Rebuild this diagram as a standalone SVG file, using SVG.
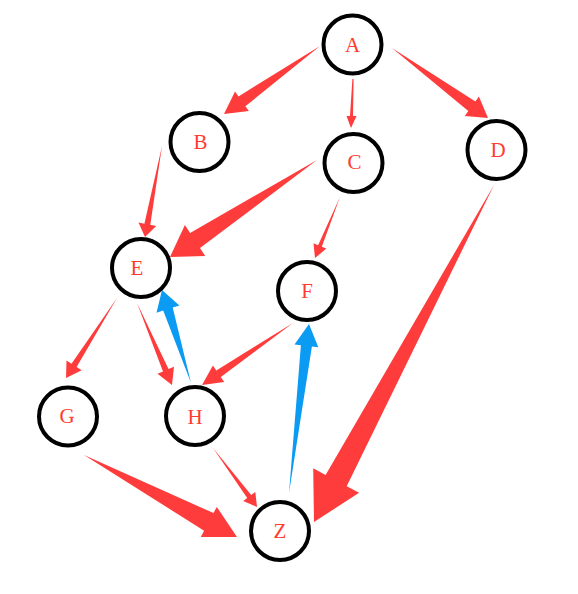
<svg xmlns="http://www.w3.org/2000/svg" width="578" height="594" viewBox="0 0 578 594">
<style>
.red{fill:#ff3c3c}
.blue{fill:#0c9bf2}
.node circle{fill:#ffffff;stroke:#000000;stroke-width:4}
.node text{font-family:"Liberation Serif","Times New Roman",serif;font-size:21px;fill:#ff3b30;text-anchor:middle;dominant-baseline:central}
</style>
<rect width="578" height="594" fill="#ffffff"/>
<g id="connectors">
<polygon class="red" points="320,46 238.5,96.4 235,91.5 224,114 248.9,111.1 245.4,106.2"/>
<polygon class="red" points="352.4,79 353.6,79 353,116 356.5,116 351,128 346.5,116 350,116"/>
<polygon class="red" points="392,48 475.4,101.4 478.9,96.5 488,118 464.8,115.9 468.3,111.1"/>
<polygon class="red" points="162,146 150.3,224.8 156.2,225.9 145,237 138.5,222.6 144.4,223.7"/>
<polygon class="red" points="317,160 200,248 205.2,255.9 170,257 184.9,225 190.1,233"/>
<polygon class="red" points="340,197 321.8,246.7 326.4,248.6 315,258 313.5,243.3 318.1,245.2"/>
<polygon class="red" points="494,185 346.7,486.2 359.1,492.8 314,522 313.2,468.3 325.6,474.9"/>
<polygon class="red" points="117,298 76.6,367 81.7,370.2 66,378 66.5,360.5 71.5,363.7"/>
<polygon class="red" points="137,303 168.5,369.1 174,366.8 172,385 157.5,373.8 163,371.5"/>
<polygon class="blue" points="191,383 172.7,307.6 179.4,305.5 162,290 156.5,312.7 163.2,310.6"/>
<polygon class="red" points="293,323 220.8,377 224.2,382 202,385 212.9,365.5 216.3,370.4"/>
<polygon class="blue" points="289,493 311.9,346.5 318.3,347.3 309,324 294.5,344.4 300.9,345.2"/>
<polygon class="red" points="84,455 213.5,513.1 216.8,506.9 237,537 200.8,536.9 204.1,530.7"/>
<polygon class="red" points="213,448 251.2,495.1 255.3,492.1 257,507 243.2,501.1 247.2,498.1"/>
</g>
<g id="A" class="node"><circle cx="352.5" cy="44.5" r="29"/><text x="352.5" y="44.5">A</text></g>
<g id="B" class="node"><circle cx="199.5" cy="142" r="29"/><text x="200.5" y="142">B</text></g>
<g id="C" class="node"><circle cx="353.5" cy="163" r="29"/><text x="354.5" y="162">C</text></g>
<g id="D" class="node"><circle cx="496.5" cy="150" r="29"/><text x="498" y="150">D</text></g>
<g id="E" class="node"><circle cx="141" cy="268" r="29"/><text x="137" y="268">E</text></g>
<g id="F" class="node"><circle cx="307" cy="291" r="29"/><text x="307" y="291">F</text></g>
<g id="G" class="node"><circle cx="68" cy="416.5" r="29"/><text x="67" y="416">G</text></g>
<g id="H" class="node"><circle cx="195" cy="416" r="29"/><text x="195" y="417">H</text></g>
<g id="Z" class="node"><circle cx="280" cy="531" r="29"/><text x="280" y="531">Z</text></g>
</svg>
